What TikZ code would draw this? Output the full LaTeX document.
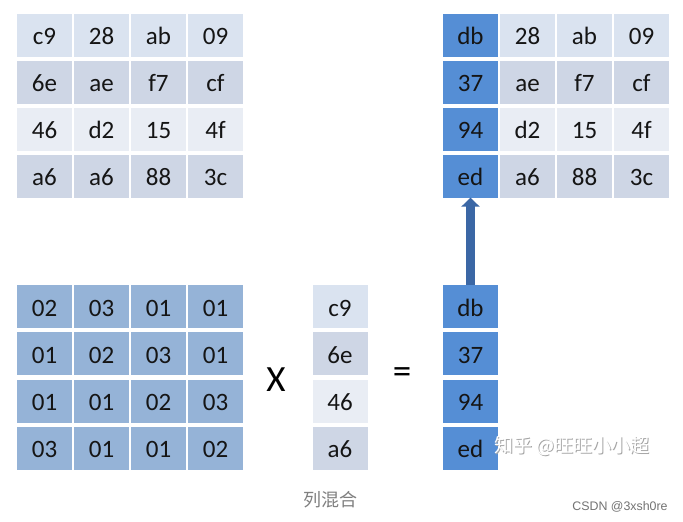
\documentclass[tikz,border=0pt]{standalone}
\usepackage{fontspec}
\setmainfont{Carlito}
\newfontfamily\cjk{Noto Sans CJK SC}
\newfontfamily\arialf{Liberation Sans}
\usetikzlibrary{arrows.meta}
\definecolor{rowA}{HTML}{DAE3F0}
\definecolor{rowB}{HTML}{CED6E5}
\definecolor{rowC}{HTML}{E9EDF4}
\definecolor{matblue}{HTML}{95B3D7}
\definecolor{colblue}{HTML}{558ED5}
\definecolor{arrowblue}{HTML}{3B67A5}
\definecolor{txt}{HTML}{151515}
\colorlet{row1}{rowA}
\colorlet{row2}{rowB}
\colorlet{row3}{rowC}
\colorlet{row4}{rowB}
\tikzset{
  cell/.style={minimum width=55pt, minimum height=43pt, inner sep=0pt, text height=19pt, text depth=0pt, text=txt, font=\fontsize{25}{25}\selectfont},
  bigsym/.style={inner sep=0pt, text=black, font=\fontsize{37}{37}\selectfont},
  uparrow/.style={draw=arrowblue, line width=9pt, -{Triangle[width=18pt,length=9pt]}},
  caption/.style={inner sep=0pt, text=black!50, font=\cjk\fontsize{18}{18}\selectfont},
  wmark/.style={inner sep=0pt, font=\cjk\fontsize{19}{19}\selectfont},
  credit/.style={inner sep=0pt, text=black!55, font=\arialf\fontsize{12.4}{12.4}\selectfont}
}
\begin{document}
\begin{tikzpicture}[x=1pt,y=-1pt]
\useasboundingbox[fill=white] (0,0) rectangle (683,522);
% top-left state
\foreach [count=\r] \row in {{c9,28,ab,09},{6e,ae,f7,cf},{46,d2,15,4f},{a6,a6,88,3c}} {
  \foreach [count=\c] \t in \row {
    \node[cell, fill=row\r] (tl-\r-\c) at ({44.5+57*(\c-1)}, {35+47*(\r-1)}) {\t};
  }
}
% top-right state
\foreach [count=\r] \row in {{db,28,ab,09},{37,ae,f7,cf},{94,d2,15,4f},{ed,a6,88,3c}} {
  \foreach [count=\c] \t in \row {
    \ifnum\c=1 \def\fc{colblue}\else\def\fc{row\r}\fi
    \node[cell, fill=\fc] (tr-\r-\c) at ({470.5+57*(\c-1)}, {35+47*(\r-1)}) {\t};
  }
}
% bottom-left matrix
\foreach [count=\r] \row in {{02,03,01,01},{01,02,03,01},{01,01,02,03},{03,01,01,02}} {
  \foreach [count=\c] \t in \row {
    \node[cell, fill=matblue] (bl-\r-\c) at ({44.5+57*(\c-1)}, {306.5+47.3*(\r-1)}) {\t};
  }
}
% middle column
\foreach [count=\r] \t in {c9,6e,46,a6} {
  \node[cell, fill=row\r] (bm-\r) at (340, {306.5+47.3*(\r-1)}) {\t};
}
% result column
\foreach [count=\r] \t in {db,37,94,ed} {
  \node[cell, fill=colblue] (br-\r) at (470.5, {306.5+47.3*(\r-1)}) {\t};
}
\node[bigsym] (times) at (276,380) {X};
\node[bigsym] (equals) at (402,376) {=};
\draw[uparrow] (br-1.north) -- (tr-4-1.south);
\node[caption] (cap) at (330,500) {列混合};
\node[wmark, text=black!35] (wm-shadow) at (572.8,446.8) {知乎 @旺旺小小超};
\node[wmark, text=white] (wm) at (572,446) {知乎 @旺旺小小超};
\node[credit] (csdn) at (620,507) {CSDN @3xsh0re};
\end{tikzpicture}
\end{document}
